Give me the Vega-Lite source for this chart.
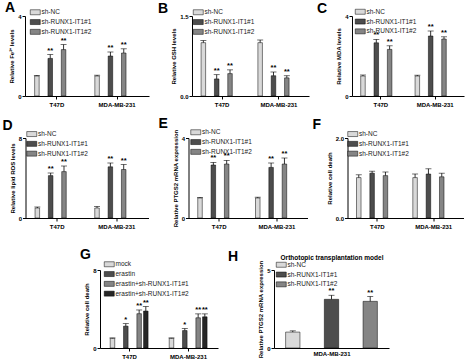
{
  "$schema": "https://vega.github.io/schema/vega-lite/v6.json",
  "padding": {"left": 2, "top": 1, "right": 2, "bottom": 1},
  "background": "white",
  "config": {
    "view": {"stroke": null},
    "font": "Liberation Sans",
    "axis": {"grid": false, "domainColor": "black", "tickColor": "black", "domainWidth": 1, "tickWidth": 1, "tickSize": 3, "labelFontSize": 6, "labelFontWeight": "bold", "labelColor": "black", "titleFontSize": 6, "titleFontWeight": "bold", "titleColor": "black", "labelPadding": 1, "titlePadding": 3},
    "axisX": {"labelFontSize": 6, "labelAngle": 0, "title": null, "labelPadding": 2},
    "legend": {"orient": "none", "title": null, "labelFontSize": 6.5, "labelColor": "#222", "symbolType": "M-2,-1H2V1H-2Z", "symbolSize": 25, "symbolStrokeColor": "black", "symbolStrokeWidth": 0.7, "rowPadding": 1.8, "padding": 0, "labelOffset": 3},
    "title": {"anchor": "start", "fontSize": 14, "fontWeight": "bold", "color": "black", "frame": "group"},
    "bar": {"stroke": "black", "strokeWidth": 0.5},
    "rule": {"color": "black", "strokeWidth": 0.8},
    "tick": {"color": "black", "thickness": 0.8, "size": 6},
    "text": {"fontSize": 7.5, "fontWeight": "bold", "baseline": "alphabetic", "dy": -2, "color": "black"}
  },
  "vconcat": [
    {
      "vconcat": [
        {
          "hconcat": [
            {
              "width": 124, "height": 80,
              "title": {"text": "A", "dx": -20, "offset": -6},
              "data": {"values": [
                {"cell": "T47D", "group": "sh-NC", "mean": 1.0, "hi": 1.03, "sig": ""},
                {"cell": "T47D", "group": "sh-RUNX1-IT1#1", "mean": 1.88, "hi": 2.07, "sig": "**"},
                {"cell": "T47D", "group": "sh-RUNX1-IT1#2", "mean": 2.32, "hi": 2.57, "sig": "**"},
                {"cell": "MDA-MB-231", "group": "sh-NC", "mean": 1.0, "hi": 1.04, "sig": ""},
                {"cell": "MDA-MB-231", "group": "sh-RUNX1-IT1#1", "mean": 2.0, "hi": 2.2, "sig": "**"},
                {"cell": "MDA-MB-231", "group": "sh-RUNX1-IT1#2", "mean": 2.15, "hi": 2.36, "sig": "**"}
              ]},
              "encoding": {
                "x": {"field": "cell", "type": "nominal", "sort": ["T47D", "MDA-MB-231"], "scale": {"paddingInner": 0.26, "paddingOuter": 0.16}},
                "xOffset": {"field": "group", "type": "nominal", "sort": ["sh-NC", "sh-RUNX1-IT1#1", "sh-RUNX1-IT1#2"], "scale": {"paddingInner": 0.32, "paddingOuter": 0}}
              },
              "layer": [
                {"mark": "bar", "encoding": {
                  "y": {"field": "mean", "type": "quantitative", "title": "Relative Fe²⁺ levels", "scale": {"domain": [0, 4], "nice": false}, "axis": {"values": [0, 1, 2, 3, 4]}},
                  "color": {"field": "group", "type": "nominal", "sort": ["sh-NC", "sh-RUNX1-IT1#1", "sh-RUNX1-IT1#2"], "scale": {"range": ["#d9d9d9", "#4d4d4d", "#858585"]}, "legend": {"legendX": 7, "legendY": -7}}}},
                {"mark": "rule", "encoding": {"y": {"field": "mean", "type": "quantitative"}, "y2": {"field": "hi"}}},
                {"mark": "tick", "encoding": {"y": {"field": "hi", "type": "quantitative"}}},
                {"mark": "text", "encoding": {"y": {"field": "hi", "type": "quantitative"}, "text": {"field": "sig"}}}
              ]
            },
            {
              "width": 117, "height": 80,
              "title": {"text": "B", "dx": -34, "offset": -6.7},
              "data": {"values": [
                {"cell": "T47D", "group": "sh-NC", "mean": 1.0, "hi": 1.04, "sig": ""},
                {"cell": "T47D", "group": "sh-RUNX1-IT1#1", "mean": 0.32, "hi": 0.4, "sig": "**"},
                {"cell": "T47D", "group": "sh-RUNX1-IT1#2", "mean": 0.42, "hi": 0.49, "sig": "**"},
                {"cell": "MDA-MB-231", "group": "sh-NC", "mean": 1.0, "hi": 1.05, "sig": ""},
                {"cell": "MDA-MB-231", "group": "sh-RUNX1-IT1#1", "mean": 0.38, "hi": 0.45, "sig": "**"},
                {"cell": "MDA-MB-231", "group": "sh-RUNX1-IT1#2", "mean": 0.34, "hi": 0.38, "sig": "**"}
              ]},
              "encoding": {
                "x": {"field": "cell", "type": "nominal", "sort": ["T47D", "MDA-MB-231"], "scale": {"paddingInner": 0.26, "paddingOuter": 0.16}},
                "xOffset": {"field": "group", "type": "nominal", "sort": ["sh-NC", "sh-RUNX1-IT1#1", "sh-RUNX1-IT1#2"], "scale": {"paddingInner": 0.32, "paddingOuter": 0}}
              },
              "layer": [
                {"mark": "bar", "encoding": {
                  "y": {"field": "mean", "type": "quantitative", "title": "Relative GSH levels", "scale": {"domain": [0, 1.5], "nice": false}, "axis": {"values": [0, 0.5, 1, 1.5], "format": ".1f"}},
                  "color": {"field": "group", "type": "nominal", "sort": ["sh-NC", "sh-RUNX1-IT1#1", "sh-RUNX1-IT1#2"], "scale": {"range": ["#d9d9d9", "#4d4d4d", "#858585"]}, "legend": {"legendX": 3, "legendY": -7}}}},
                {"mark": "rule", "encoding": {"y": {"field": "mean", "type": "quantitative"}, "y2": {"field": "hi"}}},
                {"mark": "tick", "encoding": {"y": {"field": "hi", "type": "quantitative"}}},
                {"mark": "text", "encoding": {"y": {"field": "hi", "type": "quantitative"}, "text": {"field": "sig"}}}
              ]
            },
            {
              "width": 112, "height": 80,
              "title": {"text": "C", "dx": -35, "offset": -7.2},
              "data": {"values": [
                {"cell": "T47D", "group": "sh-NC", "mean": 1.0, "hi": 1.05, "sig": ""},
                {"cell": "T47D", "group": "sh-RUNX1-IT1#1", "mean": 2.66, "hi": 2.83, "sig": "**"},
                {"cell": "T47D", "group": "sh-RUNX1-IT1#2", "mean": 2.33, "hi": 2.51, "sig": "**"},
                {"cell": "MDA-MB-231", "group": "sh-NC", "mean": 1.0, "hi": 1.04, "sig": ""},
                {"cell": "MDA-MB-231", "group": "sh-RUNX1-IT1#1", "mean": 3.0, "hi": 3.25, "sig": "**"},
                {"cell": "MDA-MB-231", "group": "sh-RUNX1-IT1#2", "mean": 2.85, "hi": 2.96, "sig": "**"}
              ]},
              "encoding": {
                "x": {"field": "cell", "type": "nominal", "sort": ["T47D", "MDA-MB-231"], "scale": {"paddingInner": 0.26, "paddingOuter": 0.16}},
                "xOffset": {"field": "group", "type": "nominal", "sort": ["sh-NC", "sh-RUNX1-IT1#1", "sh-RUNX1-IT1#2"], "scale": {"paddingInner": 0.32, "paddingOuter": 0}}
              },
              "layer": [
                {"mark": "bar", "encoding": {
                  "y": {"field": "mean", "type": "quantitative", "title": "Relative MDA levels", "scale": {"domain": [0, 4], "nice": false}, "axis": {"values": [0, 1, 2, 3, 4]}},
                  "color": {"field": "group", "type": "nominal", "sort": ["sh-NC", "sh-RUNX1-IT1#1", "sh-RUNX1-IT1#2"], "scale": {"range": ["#d9d9d9", "#4d4d4d", "#858585"]}, "legend": {"legendX": 5, "legendY": -7.5}}}},
                {"mark": "rule", "encoding": {"y": {"field": "mean", "type": "quantitative"}, "y2": {"field": "hi"}}},
                {"mark": "tick", "encoding": {"y": {"field": "hi", "type": "quantitative"}}},
                {"mark": "text", "encoding": {"y": {"field": "hi", "type": "quantitative"}, "text": {"field": "sig"}}}
              ]
            }
          ],
          "spacing": 43,
          "bounds": "flush",
          "resolve": {"scale": {"color": "independent"}}
        },
        {
          "hconcat": [
            {
              "width": 123, "height": 80,
              "title": {"text": "D", "dx": -23, "offset": -2.2},
              "data": {"values": [
                {"cell": "T47D", "group": "sh-NC", "mean": 1.0, "hi": 1.1, "sig": ""},
                {"cell": "T47D", "group": "sh-RUNX1-IT1#1", "mean": 4.24, "hi": 4.5, "sig": "**"},
                {"cell": "T47D", "group": "sh-RUNX1-IT1#2", "mean": 4.64, "hi": 5.2, "sig": "**"},
                {"cell": "MDA-MB-231", "group": "sh-NC", "mean": 1.0, "hi": 1.15, "sig": ""},
                {"cell": "MDA-MB-231", "group": "sh-RUNX1-IT1#1", "mean": 5.12, "hi": 5.5, "sig": "**"},
                {"cell": "MDA-MB-231", "group": "sh-RUNX1-IT1#2", "mean": 4.85, "hi": 5.35, "sig": "**"}
              ]},
              "encoding": {
                "x": {"field": "cell", "type": "nominal", "sort": ["T47D", "MDA-MB-231"], "scale": {"paddingInner": 0.26, "paddingOuter": 0.16}},
                "xOffset": {"field": "group", "type": "nominal", "sort": ["sh-NC", "sh-RUNX1-IT1#1", "sh-RUNX1-IT1#2"], "scale": {"paddingInner": 0.32, "paddingOuter": 0}}
              },
              "layer": [
                {"mark": "bar", "encoding": {
                  "y": {"field": "mean", "type": "quantitative", "title": "Relative lipid ROS levels", "scale": {"domain": [0, 8], "nice": false}, "axis": {"values": [0, 2, 4, 6, 8]}},
                  "color": {"field": "group", "type": "nominal", "sort": ["sh-NC", "sh-RUNX1-IT1#1", "sh-RUNX1-IT1#2"], "scale": {"range": ["#d9d9d9", "#4d4d4d", "#858585"]}, "legend": {"legendX": 3, "legendY": -7.2}}}},
                {"mark": "rule", "encoding": {"y": {"field": "mean", "type": "quantitative"}, "y2": {"field": "hi"}}},
                {"mark": "tick", "encoding": {"y": {"field": "hi", "type": "quantitative"}}},
                {"mark": "text", "encoding": {"y": {"field": "hi", "type": "quantitative"}, "text": {"field": "sig"}}}
              ]
            },
            {
              "width": 119, "height": 80,
              "title": {"text": "E", "dx": -30, "offset": -2.3},
              "data": {"values": [
                {"cell": "T47D", "group": "sh-NC", "mean": 1.0, "hi": 1.03, "sig": ""},
                {"cell": "T47D", "group": "sh-RUNX1-IT1#1", "mean": 2.65, "hi": 2.78, "sig": "**"},
                {"cell": "T47D", "group": "sh-RUNX1-IT1#2", "mean": 2.7, "hi": 2.88, "sig": "**"},
                {"cell": "MDA-MB-231", "group": "sh-NC", "mean": 1.0, "hi": 1.04, "sig": ""},
                {"cell": "MDA-MB-231", "group": "sh-RUNX1-IT1#1", "mean": 2.53, "hi": 2.75, "sig": "**"},
                {"cell": "MDA-MB-231", "group": "sh-RUNX1-IT1#2", "mean": 2.7, "hi": 3.0, "sig": "**"}
              ]},
              "encoding": {
                "x": {"field": "cell", "type": "nominal", "sort": ["T47D", "MDA-MB-231"], "scale": {"paddingInner": 0.26, "paddingOuter": 0.16}},
                "xOffset": {"field": "group", "type": "nominal", "sort": ["sh-NC", "sh-RUNX1-IT1#1", "sh-RUNX1-IT1#2"], "scale": {"paddingInner": 0.32, "paddingOuter": 0}}
              },
              "layer": [
                {"mark": "bar", "encoding": {
                  "y": {"field": "mean", "type": "quantitative", "title": "Relative PTGS2 mRNA expression", "scale": {"domain": [0, 4], "nice": false}, "axis": {"values": [0, 1, 2, 3, 4]}},
                  "color": {"field": "group", "type": "nominal", "sort": ["sh-NC", "sh-RUNX1-IT1#1", "sh-RUNX1-IT1#2"], "scale": {"range": ["#d9d9d9", "#4d4d4d", "#858585"]}, "legend": {"legendX": 4, "legendY": -9}}}},
                {"mark": "rule", "encoding": {"y": {"field": "mean", "type": "quantitative"}, "y2": {"field": "hi"}}},
                {"mark": "tick", "encoding": {"y": {"field": "hi", "type": "quantitative"}}},
                {"mark": "text", "encoding": {"y": {"field": "hi", "type": "quantitative"}, "text": {"field": "sig"}}}
              ]
            },
            {
              "width": 116, "height": 80,
              "title": {"text": "F", "dx": -35, "offset": -1.2},
              "data": {"values": [
                {"cell": "T47D", "group": "sh-NC", "mean": 1.01, "hi": 1.08, "sig": ""},
                {"cell": "T47D", "group": "sh-RUNX1-IT1#1", "mean": 1.12, "hi": 1.17, "sig": ""},
                {"cell": "T47D", "group": "sh-RUNX1-IT1#2", "mean": 1.06, "hi": 1.15, "sig": ""},
                {"cell": "MDA-MB-231", "group": "sh-NC", "mean": 1.01, "hi": 1.1, "sig": ""},
                {"cell": "MDA-MB-231", "group": "sh-RUNX1-IT1#1", "mean": 1.1, "hi": 1.23, "sig": ""},
                {"cell": "MDA-MB-231", "group": "sh-RUNX1-IT1#2", "mean": 1.03, "hi": 1.12, "sig": ""}
              ]},
              "encoding": {
                "x": {"field": "cell", "type": "nominal", "sort": ["T47D", "MDA-MB-231"], "scale": {"paddingInner": 0.26, "paddingOuter": 0.16}},
                "xOffset": {"field": "group", "type": "nominal", "sort": ["sh-NC", "sh-RUNX1-IT1#1", "sh-RUNX1-IT1#2"], "scale": {"paddingInner": 0.32, "paddingOuter": 0}}
              },
              "layer": [
                {"mark": "bar", "encoding": {
                  "y": {"field": "mean", "type": "quantitative", "title": "Relative cell death", "scale": {"domain": [0, 2], "nice": false}, "axis": {"values": [0, 0.5, 1, 1.5, 2], "format": ".1f"}},
                  "color": {"field": "group", "type": "nominal", "sort": ["sh-NC", "sh-RUNX1-IT1#1", "sh-RUNX1-IT1#2"], "scale": {"range": ["#d9d9d9", "#4d4d4d", "#858585"]}, "legend": {"legendX": 2, "legendY": -7.2}}}},
                {"mark": "rule", "encoding": {"y": {"field": "mean", "type": "quantitative"}, "y2": {"field": "hi"}}},
                {"mark": "tick", "encoding": {"y": {"field": "hi", "type": "quantitative"}}}
              ]
            }
          ],
          "spacing": 40,
          "bounds": "flush",
          "resolve": {"scale": {"color": "independent"}}
        }
      ],
      "spacing": 10,
      "bounds": "full",
      "center": true,
      "resolve": {"scale": {"color": "independent"}}
    },
    {
      "hconcat": [
        {
          "width": 118, "height": 78,
          "title": {"text": "G", "dx": -20, "offset": -1.3},
          "data": {"values": [
            {"cell": "T47D", "group": "mock", "mean": 1.0, "hi": 1.03, "sig": ""},
            {"cell": "T47D", "group": "erastin", "mean": 2.24, "hi": 2.5, "sig": "*"},
            {"cell": "T47D", "group": "erastin+sh-RUNX1-IT1#1", "mean": 3.52, "hi": 3.9, "sig": "**"},
            {"cell": "T47D", "group": "erastin+sh-RUNX1-IT1#2", "mean": 3.79, "hi": 4.25, "sig": "**"},
            {"cell": "MDA-MB-231", "group": "mock", "mean": 1.0, "hi": 1.03, "sig": ""},
            {"cell": "MDA-MB-231", "group": "erastin", "mean": 1.79, "hi": 2.0, "sig": "*"},
            {"cell": "MDA-MB-231", "group": "erastin+sh-RUNX1-IT1#1", "mean": 3.1, "hi": 3.5, "sig": "**"},
            {"cell": "MDA-MB-231", "group": "erastin+sh-RUNX1-IT1#2", "mean": 3.2, "hi": 3.5, "sig": "**"}
          ]},
          "encoding": {
            "x": {"field": "cell", "type": "nominal", "sort": ["T47D", "MDA-MB-231"], "scale": {"paddingInner": 0.12, "paddingOuter": 0.06}},
            "xOffset": {"field": "group", "type": "nominal", "sort": ["mock", "erastin", "erastin+sh-RUNX1-IT1#1", "erastin+sh-RUNX1-IT1#2"], "scale": {"paddingInner": 0.3, "paddingOuter": 0}}
          },
          "layer": [
            {"mark": "bar", "encoding": {
              "y": {"field": "mean", "type": "quantitative", "title": "Relative cell death", "scale": {"domain": [0, 8], "nice": false}, "axis": {"values": [0, 2, 4, 6, 8]}},
              "color": {"field": "group", "type": "nominal", "sort": ["mock", "erastin", "erastin+sh-RUNX1-IT1#1", "erastin+sh-RUNX1-IT1#2"], "scale": {"range": ["#d9d9d9", "#4d4d4d", "#858585", "#262626"]}, "legend": {"legendX": 6, "legendY": -9}}}},
            {"mark": "rule", "encoding": {"y": {"field": "mean", "type": "quantitative"}, "y2": {"field": "hi"}}},
            {"mark": "tick", "encoding": {"y": {"field": "hi", "type": "quantitative"}}},
            {"mark": "text", "encoding": {"y": {"field": "hi", "type": "quantitative"}, "text": {"field": "sig"}}}
          ]
        },
        {
          "width": 115, "height": 78,
          "title": {"text": "H", "dx": -46, "offset": -9.6},
          "data": {"values": [
            {"cell": "MDA-MB-231", "group": "sh-NC", "mean": 1.02, "hi": 1.1, "sig": ""},
            {"cell": "MDA-MB-231", "group": "sh-RUNX1-IT1#1", "mean": 3.12, "hi": 3.38, "sig": "**"},
            {"cell": "MDA-MB-231", "group": "sh-RUNX1-IT1#2", "mean": 2.99, "hi": 3.3, "sig": "**"}
          ]},
          "layer": [
            {"mark": "bar", "encoding": {
              "x": {"field": "group", "type": "nominal", "sort": ["sh-NC", "sh-RUNX1-IT1#1", "sh-RUNX1-IT1#2"], "scale": {"paddingInner": 0.63, "paddingOuter": 0.3}, "axis": {"title": "MDA-MB-231", "labels": false, "ticks": false, "titleFontSize": 6, "titlePadding": 2}},
              "y": {"field": "mean", "type": "quantitative", "title": "Relative PTGS2 mRNA expression", "scale": {"domain": [0, 5], "nice": false}, "axis": {"values": [0, 1, 2, 3, 4, 5]}},
              "color": {"field": "group", "type": "nominal", "sort": ["sh-NC", "sh-RUNX1-IT1#1", "sh-RUNX1-IT1#2"], "scale": {"range": ["#d9d9d9", "#4d4d4d", "#858585"]}, "legend": {"legendX": 4, "legendY": -8.5}}}},
            {"mark": "rule", "encoding": {
              "x": {"field": "group", "type": "nominal", "sort": ["sh-NC", "sh-RUNX1-IT1#1", "sh-RUNX1-IT1#2"], "axis": {"orient": "top", "title": "Orthotopic transplantation model", "labels": false, "ticks": false, "domain": false, "titleFontSize": 6.5, "titlePadding": 9.5}},
              "y": {"field": "mean", "type": "quantitative"}, "y2": {"field": "hi"}}},
            {"mark": "tick", "encoding": {
              "x": {"field": "group", "type": "nominal", "sort": ["sh-NC", "sh-RUNX1-IT1#1", "sh-RUNX1-IT1#2"], "axis": null},
              "y": {"field": "hi", "type": "quantitative"}}},
            {"mark": "text", "encoding": {
              "x": {"field": "group", "type": "nominal", "sort": ["sh-NC", "sh-RUNX1-IT1#1", "sh-RUNX1-IT1#2"], "axis": null},
              "y": {"field": "hi", "type": "quantitative"}, "text": {"field": "sig"}}}
          ],
          "resolve": {"axis": {"x": "independent"}}
        }
      ],
      "spacing": 10,
      "bounds": "full",
      "resolve": {"scale": {"color": "independent"}}
    }
  ],
  "spacing": 19,
  "bounds": "full",
  "center": true,
  "resolve": {"scale": {"color": "independent"}}
}
